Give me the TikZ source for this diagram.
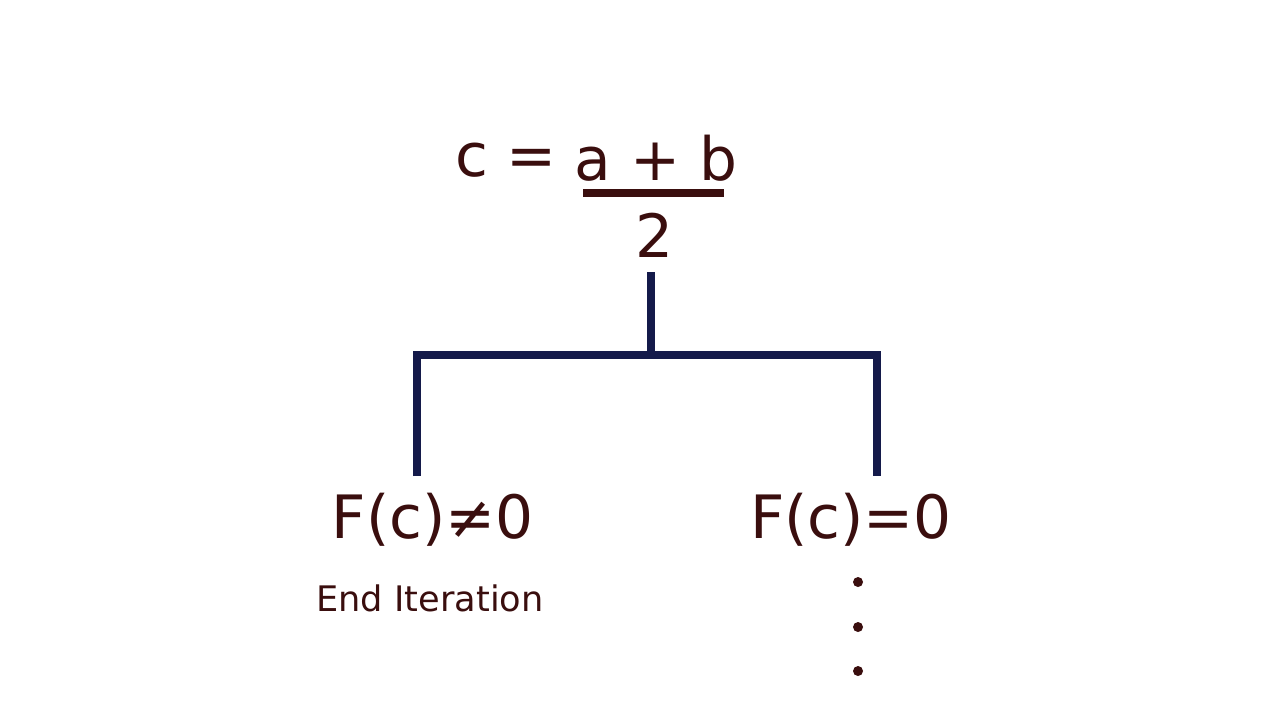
\documentclass[tikz,border=0pt]{standalone}
\usepackage{fontspec}
\setmainfont{DejaVu Sans}
\begin{document}
\begin{tikzpicture}[x=0.01cm,y=-0.01cm]
\definecolor{txt}{HTML}{3A0E0E}
\definecolor{ln}{HTML}{141A4A}
\tikzset{branch/.style={draw=ln,line width=2.3pt},
 big/.style={text=txt,inner sep=0pt,font=\fontsize{17}{20}\selectfont},
 small/.style={text=txt,inner sep=0pt,font=\fontsize{10}{12}\selectfont},
 dot/.style={circle,fill=txt,inner sep=0pt,minimum size=0.1cm}}
\useasboundingbox (0,0) rectangle (1280,720);
\fill[white] (0,0) rectangle (1280,720);
\node[big] (c) at (506,160) {c =};
\node[big] (ab) at (656,158) {a + b};
\node[big] (two) at (655,235) {2};
\draw[draw=txt,line width=2.3pt] (583,193) -- (724,193);
\coordinate (top) at (651,272);
\coordinate (mid) at (651,355);
\coordinate (l) at (417,355);
\coordinate (r) at (877,355);
\coordinate (lb) at (417,476);
\coordinate (rb) at (877,476);
\draw[branch] (top) -- (mid);
\draw[branch] (lb) -- (l) -- (r) -- (rb);
\node[big] (fl) at (433,520) {F(c)≠0};
\node[big] (fr) at (851,520) {F(c)=0};
\node[small] (end) at (430,598) {End Iteration};
\node[dot] (d1) at (858,582) {};
\node[dot] (d2) at (858,627) {};
\node[dot] (d3) at (858,671) {};
\end{tikzpicture}
\end{document}
